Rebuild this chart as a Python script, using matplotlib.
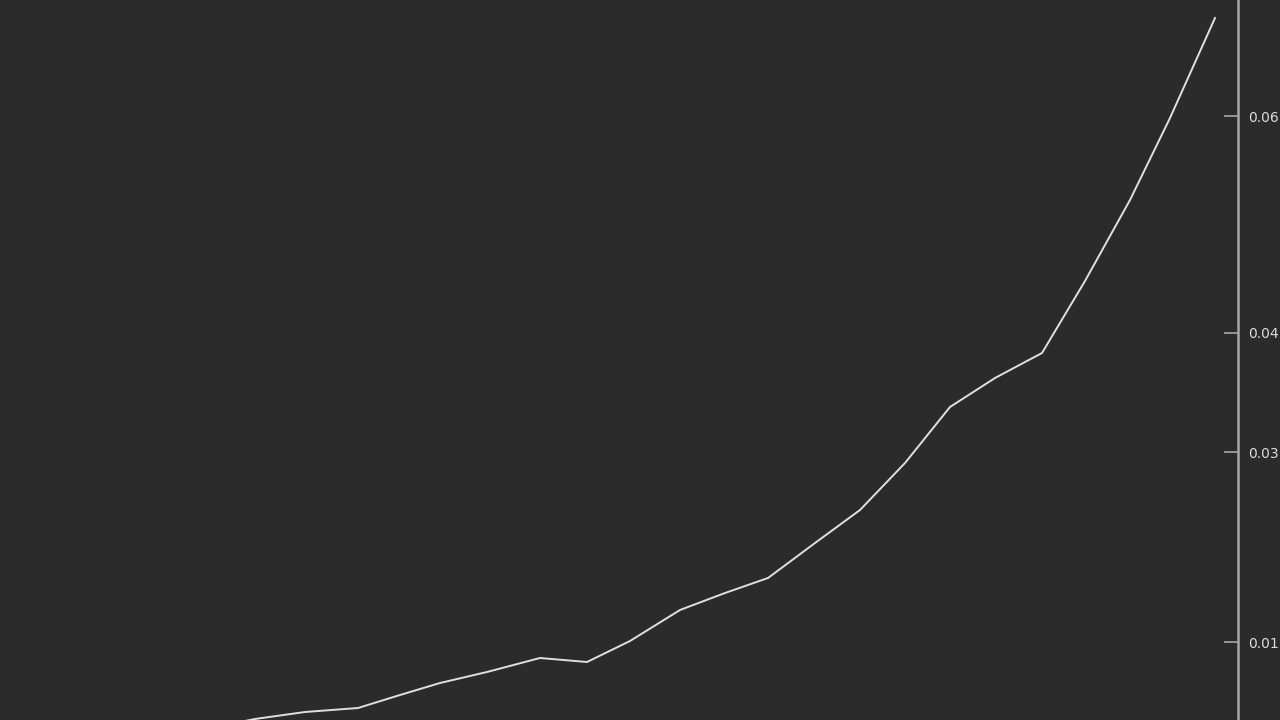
import matplotlib
matplotlib.use('Agg')
from matplotlib import pyplot as plt

# values
x_vals = [200, 255, 305, 358, 400, 440, 487, 540, 587, 630, 680, 725,
          768, 815, 860, 905, 950, 995, 1042, 1085, 1130, 1170, 1215]
y_vals = [-0.0010, 0.0001, 0.0008, 0.0012, 0.0025, 0.0037, 0.0048, 0.0062,
          0.0058, 0.0079, 0.0110, 0.0127, 0.0142, 0.0177, 0.0210, 0.0257,
          0.0313, 0.0342, 0.0367, 0.0439, 0.0520, 0.0602, 0.0702]
y_ticks = [0.0078, 0.0268, 0.0387, 0.0604]
y_tick_labels = ['0.01', '0.03', '0.04', '0.06']

bg = '#2b2b2b'

def main():
    fig = plt.figure(figsize=(12.8, 7.2), dpi=100, facecolor=bg)
    ax = fig.add_axes([0, 0, 1238 / 1280, 1])
    ax.set_facecolor(bg)

    ax.plot(x_vals, y_vals, color='#e0e0e0', linewidth=1.4)

    ax.set_xlim(0, 1238)
    ax.set_ylim(0, 0.0720)

    # only the right spine is shown
    for side in ['left', 'top', 'bottom']:
        ax.spines[side].set_visible(False)
    ax.spines['right'].set_color('#a8a8a8')
    ax.spines['right'].set_linewidth(1.8)

    ax.set_xticks([])
    ax.yaxis.tick_right()
    ax.set_yticks(y_ticks)
    ax.set_yticklabels(y_tick_labels)
    ax.tick_params(axis='y', direction='in', length=10, width=1.2,
                   color='#a8a8a8', labelcolor='#dcdcdc', labelsize=10, pad=7)

    fig.savefig('out.png', dpi=100, facecolor=bg)


if __name__ == '__main__':
    main()
